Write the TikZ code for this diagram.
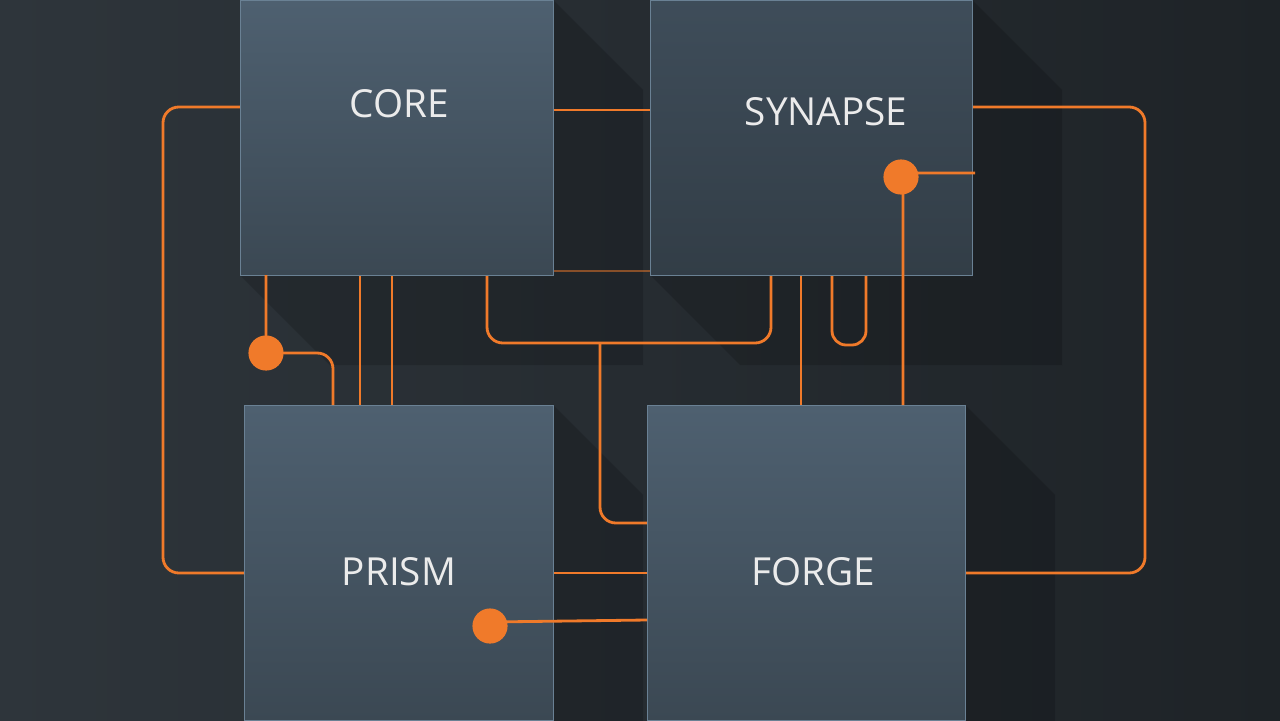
\documentclass[tikz,border=0pt]{standalone}
\usepackage{fontspec}
\setmainfont{Open Sans}
\definecolor{bgA}{HTML}{2E353B}
\definecolor{bgB}{HTML}{1E2327}
\definecolor{boxA}{HTML}{4E6070}
\definecolor{boxB}{HTML}{3B4853}
\definecolor{boxE}{HTML}{6A8194}
\definecolor{wire}{HTML}{F07A2A}
\begin{document}
\begin{tikzpicture}[x=0.02cm,y=-0.02cm,
  wireln/.style={draw=wire,line width=1.6pt,rounded corners=9},
  dot/.style={circle,fill=wire,minimum size=20pt,inner sep=0pt},
  boxlabel/.style={text=white!92!black,font=\fontsize{22}{26}\selectfont}]
\shade[left color=bgA,right color=bgB] (0,0) rectangle (1280,720);
\useasboundingbox (0,0) rectangle (1280,720);
\foreach \a/\b/\c/\d in {240/553/0/275, 650/972/0/275, 244/553/405/720, 647/965/405/720}{
  \fill[black,opacity=0.16] (\b,\c) -- (\b+90,\c+90) -- (\b+90,\d+90) -- (\a+90,\d+90) -- (\a,\d) -- cycle;
}
\draw[wireln] (240,107) -- (163,107) -- (163,573) -- (244,573);
\draw[wireln] (553,110) -- (650,110);
\draw[wireln] (972,107) -- (1145,107) -- (1145,573) -- (965,573);
\draw[wireln,opacity=0.5] (553,271) -- (650,271);
\draw[wireln] (487,275) -- (487,343) -- (771,343) -- (771,275);
\draw[wireln] (600,343) -- (600,523) -- (647,523);
\draw[wireln] (801,275) -- (801,405);
\draw[wireln,rounded corners=8] (832,275) -- (832,345) -- (866,345) -- (866,275);
\draw[wireln] (360,275) -- (360,405);
\draw[wireln] (392,275) -- (392,405);
\draw[wireln] (553,573) -- (647,573);
\node[draw=boxE,line width=0.8pt,top color=boxA,bottom color=boxB,minimum width=313*0.02cm,minimum height=275*0.02cm,inner sep=0,anchor=north west] (core) at (240,0) {};
\node[draw=boxE,line width=0.8pt,top color=boxA!80!black,bottom color=boxB!85!black,minimum width=322*0.02cm,minimum height=275*0.02cm,inner sep=0,anchor=north west] (syn) at (650,0) {};
\node[draw=boxE,line width=0.8pt,top color=boxA,bottom color=boxB,minimum width=309*0.02cm,minimum height=315*0.02cm,inner sep=0,anchor=north west] (prism) at (244,405) {};
\node[draw=boxE,line width=0.8pt,top color=boxA,bottom color=boxB,minimum width=318*0.02cm,minimum height=315*0.02cm,inner sep=0,anchor=north west] (forge) at (647,405) {};
\node[boxlabel] at (399,104) {CORE};
\node[boxlabel] at (826,112) {SYNAPSE};
\node[boxlabel] at (399,572) {PRISM};
\node[boxlabel] at (813,572) {FORGE};
\draw[wireln] (266,275) -- (266,353) -- (333,353) -- (333,405);
\node[dot] (d1) at (266,353) {};
\draw[wireln] (975,173) -- (903,173) -- (903,405);
\node[dot] (d2) at (901,177) {};
\draw[wireln,rounded corners=0] (490,622) -- (647,620);
\node[dot] (d3) at (490,626) {};
\end{tikzpicture}
\end{document}
